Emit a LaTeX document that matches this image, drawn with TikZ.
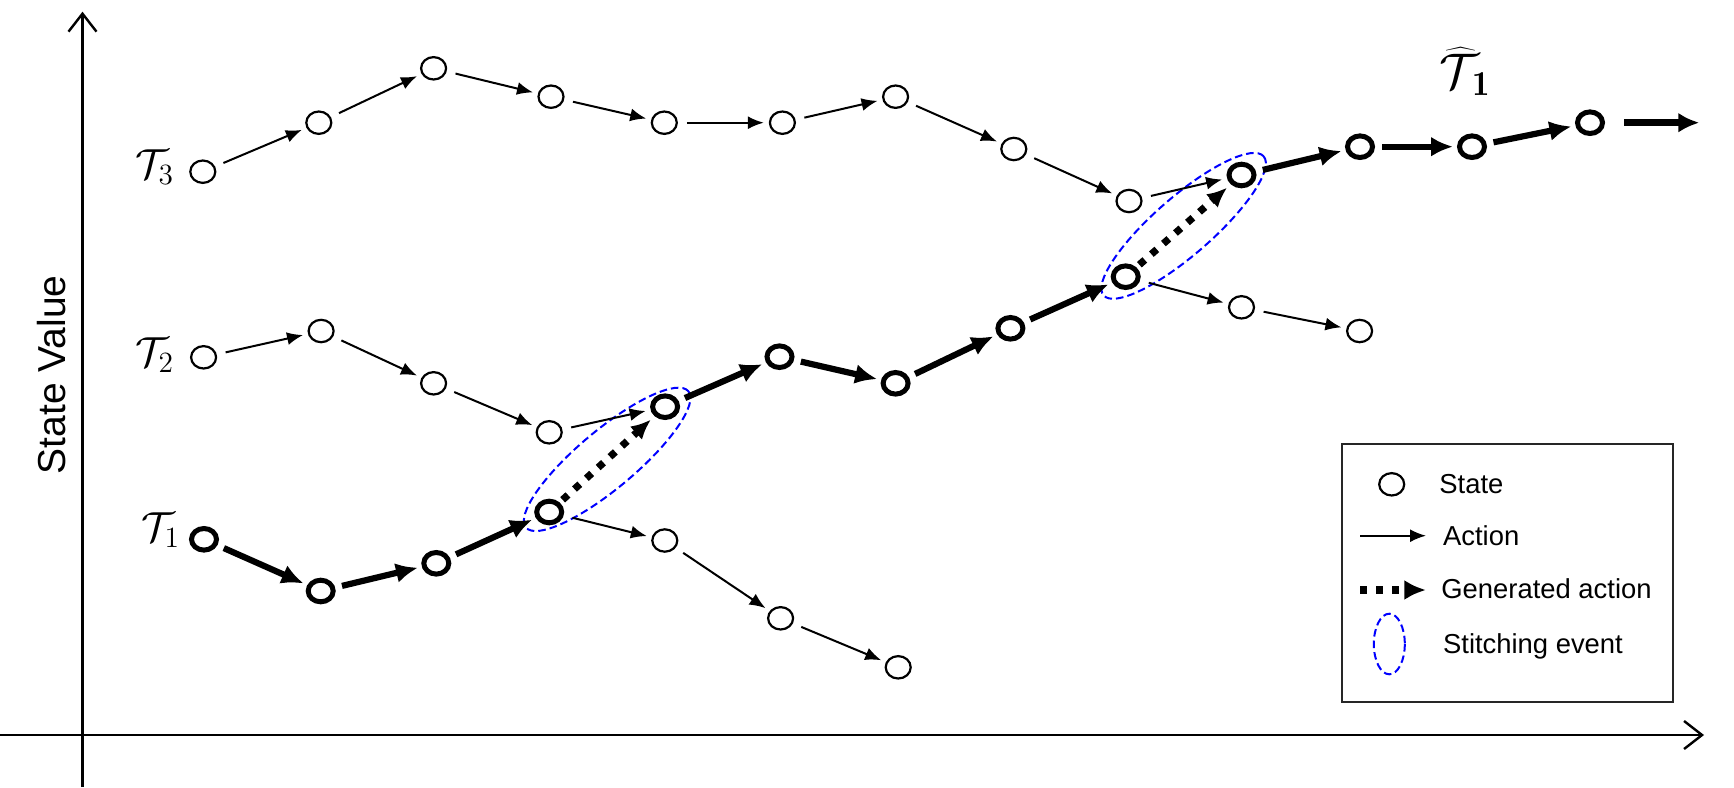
\RequirePackage{fix-cm}
\documentclass[tikz,border=0pt]{standalone}
\usepackage{fontspec}
\newfontfamily\lsans{Liberation Sans}
\usetikzlibrary{arrows.meta,shapes.geometric,calc}
\begin{document}
\begin{tikzpicture}[x=0.5pt,y=-0.5pt,
  st/.style={ellipse, draw, line width=1.1pt, minimum width=12.5pt, minimum height=11.2pt, inner sep=0pt, fill=white},
  bst/.style={st, line width=2.5pt, minimum height=10.8pt},
  act/.style={line width=1pt, -{Latex[length=8pt,width=6.5pt]}, shorten <=4.5pt, shorten >=2.5pt},
  bact/.style={line width=3.1pt, -{Latex[length=11pt,width=10pt]}, shorten <=3.5pt, shorten >=2pt},
  gen/.style={line width=3.6pt, dash pattern=on 3.6pt off 4.4pt, -{Latex[length=10pt,width=9pt]}, shorten <=2pt, shorten >=2.5pt},
  stitch/.style={draw=blue, line width=1pt, dash pattern=on 3.8pt off 2pt},
  axis/.style={line width=1.2pt, -{Straight Barb[length=9pt,width=14pt]}},
  lbl/.style={inner sep=0pt, font=\fontsize{21}{24}\selectfont, anchor=base},
  leg/.style={inner sep=0pt, anchor=base west, font=\lsans\fontsize{13.7}{16}\selectfont},
]
\useasboundingbox (0,0) rectangle (1734,787);

% axes
\coordinate (yb) at (82.5,787);
\coordinate (yt) at (82.5,11.7);
\coordinate (xl) at (0,735);
\coordinate (xr) at (1704,735);
\draw[axis] (yb) -- (yt);
\draw[axis] (xl) -- (xr);
\node[rotate=90, anchor=base, inner sep=0pt, font=\lsans\fontsize{19.5}{22}\selectfont] (ylab) at (65,374.7) {State Value};

% trajectory labels
\node[lbl] (l3) at (155,178) {$\mathcal{T}_3$};
\node[lbl] (l2) at (155,366) {$\mathcal{T}_2$};
\node[lbl] (l1) at (161,541) {$\mathcal{T}_1$};
\node[lbl, font=\fontsize{25}{30}\selectfont] (lh) at (1465,88) {$\widehat{\mathcal{T}}_{\,\mathbf{1}}$};

% T3 states
\node[st] (t31) at (202.8,171.7) {};
\node[st] (t32) at (318.8,122.7) {};
\node[st] (t33) at (433.6,68.3) {};
\node[st] (t34) at (551,96.7) {};
\node[st] (t35) at (664.3,122.7) {};
\node[st] (t36) at (782.4,122.7) {};
\node[st] (t37) at (895.6,96.7) {};
\node[st] (t38) at (1013.8,149) {};
\node[st] (t39) at (1129,201) {};
% T2 states
\node[st] (t21) at (203.6,357.3) {};
\node[st] (t22) at (321.1,331) {};
\node[st] (t23) at (433.6,383.3) {};
\node[st] (t24) at (549.2,432.3) {};
% T1 states
\node[bst] (b1) at (204,539.3) {};
\node[bst] (b2) at (320.7,591) {};
\node[bst] (b3) at (436.3,563.3) {};
\node[bst] (sB) at (549.2,512) {};
\node[st] (r1) at (664.8,540.5) {};
\node[st] (r2) at (780.6,618.3) {};
\node[st] (r3) at (898.2,667.3) {};
% stitched trajectory
\node[bst] (sA) at (665.1,406.7) {};
\node[bst] (b5) at (779.5,356.7) {};
\node[bst] (b6) at (895.6,383.3) {};
\node[bst] (b7) at (1010.4,328.3) {};
\node[bst] (sD) at (1125.7,276.7) {};
\node[st] (q1) at (1241.5,307.3) {};
\node[st] (q2) at (1359.6,331) {};
\node[bst] (sC) at (1241.5,175) {};
\node[bst] (b9) at (1360,146.7) {};
\node[bst] (b10) at (1472,146.7) {};
\node[bst] (b11) at (1590,122.7) {};
\coordinate (fend) at (1699.3,122.7);

% stitching events
\draw[stitch, shift={($(sA)!0.5!(sB)$)}, rotate=40] (0,0) ellipse [x radius=106, y radius=29];
\draw[stitch, shift={($(sC)!0.5!(sD)$)}, rotate=41] (0,0) ellipse [x radius=106, y radius=29];

% T3 actions
\draw[act] (t31) -- (t32);
\draw[act] (t32) -- (t33);
\draw[act] (t33) -- (t34);
\draw[act] (t34) -- (t35);
\draw[act] (t35) -- (t36);
\draw[act] (t36) -- (t37);
\draw[act] (t37) -- (t38);
\draw[act] (t38) -- (t39);
\draw[act] (t39) -- (sC);
% T2 actions
\draw[act] (t21) -- (t22);
\draw[act] (t22) -- (t23);
\draw[act] (t23) -- (t24);
\draw[act] (t24) -- (sA);
% T1 actions
\draw[bact] (b1) -- (b2);
\draw[bact] (b2) -- (b3);
\draw[bact] (b3) -- (sB);
\draw[act] (sB) -- (r1);
\draw[act] (r1) -- (r2);
\draw[act] (r2) -- (r3);
% generated
\draw[gen] (sB) -- (sA);
\draw[gen] (sD) -- (sC);
% stitched path
\draw[bact] (sA) -- (b5);
\draw[bact] (b5) -- (b6);
\draw[bact] (b6) -- (b7);
\draw[bact] (b7) -- (sD);
\draw[act] (sD) -- (q1);
\draw[act] (q1) -- (q2);
\draw[bact] (sC) -- (b9);
\draw[bact] (b9) -- (b10);
\draw[bact] (b10) -- (b11);
\draw[bact, line width=3.3pt, -{Latex[length=10.5pt,width=10pt]}, shorten <=9.5pt, shorten >=0pt] (b11) -- (fend);

% legend
\draw[line width=1.2pt, black!85] (1342,444) rectangle (1673,702);
\node[st] (lstate) at (1391.7,484.3) {};
\coordinate (la1) at (1360,535.7);
\coordinate (la2) at (1426,535.7);
\draw[act, shorten <=0pt, shorten >=0pt] (la1) -- (la2);
\coordinate (lg1) at (1360,590);
\coordinate (lg2) at (1426,590);
\draw[gen, shorten <=0pt, shorten >=0pt, -{Latex[length=10.8pt,width=10pt]}] (lg1) -- (lg2);
\draw[stitch] (1389.3,644) ellipse [x radius=15.5, y radius=30.3];
\node[leg] (tstate) at (1439,493.3) {State};
\node[leg] (taction) at (1442.7,545) {Action};
\node[leg] (tgen) at (1441,598.3) {Generated action};
\node[leg] (tstitch) at (1442.7,653.3) {Stitching event};
\end{tikzpicture}
\end{document}
